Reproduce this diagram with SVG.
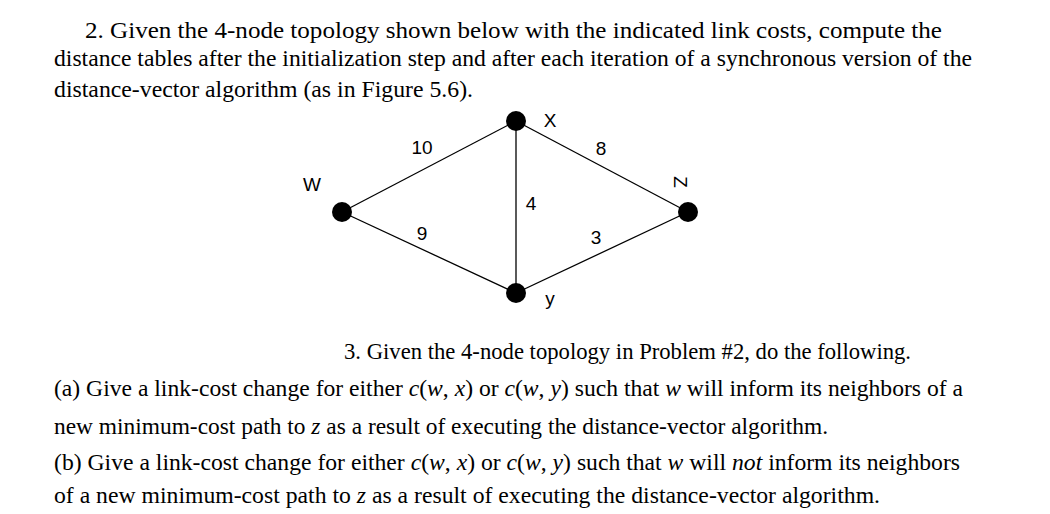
<svg xmlns="http://www.w3.org/2000/svg" width="1050" height="514" viewBox="0 0 1050 514">
<style>
.t{font-family:"Liberation Serif","Times New Roman",serif;font-size:23px;fill:#000}
.s{font-family:"Liberation Sans",Arial,sans-serif;font-size:19px;fill:#000}
.e{stroke:#000;stroke-width:1.3;fill:none}
.n{fill:#000}
</style>
<rect width="1050" height="514" fill="#fff"/>
<text class="t" x="85" y="38" textLength="857" lengthAdjust="spacingAndGlyphs">2. Given the 4-node topology shown below with the indicated link costs, compute the</text>
<text class="t" x="54" y="66" textLength="918" lengthAdjust="spacingAndGlyphs">distance tables after the initialization step and after each iteration of a synchronous version of the</text>
<text class="t" x="54" y="97" textLength="419" lengthAdjust="spacingAndGlyphs">distance-vector algorithm (as in Figure 5.6).</text>
<g id="edges">
<line class="e" x1="342" y1="212" x2="516" y2="121"/>
<line class="e" x1="342" y1="212" x2="516" y2="293"/>
<line class="e" x1="516" y1="121" x2="516" y2="293"/>
<line class="e" x1="516" y1="121" x2="688" y2="212"/>
<line class="e" x1="516" y1="293" x2="688" y2="212"/>
<rect x="522" y="190" width="19" height="24" fill="#fff"/>
<text class="s" x="531" y="210" text-anchor="middle">4</text>
<text class="s" x="422" y="154" text-anchor="middle">10</text>
<text class="s" x="422" y="240" text-anchor="middle">9</text>
<text class="s" x="601" y="155" text-anchor="middle">8</text>
<text class="s" x="596" y="244" text-anchor="middle">3</text>
</g>
<g id="w"><circle class="n" cx="342" cy="212" r="10"/><text class="s" x="312" y="191" text-anchor="middle">W</text></g>
<g id="x"><circle class="n" cx="516" cy="121" r="10"/><text class="s" x="550" y="127" text-anchor="middle">X</text></g>
<g id="y"><circle class="n" cx="516" cy="293" r="10"/><text class="s" x="550" y="305" text-anchor="middle">y</text></g>
<g id="z"><circle class="n" cx="688" cy="212" r="10"/><text class="s" x="0" y="0" text-anchor="middle" transform="translate(681,182) rotate(90) translate(0,7)">Z</text></g>
<text class="t" x="344" y="359" textLength="567" lengthAdjust="spacingAndGlyphs">3. Given the 4-node topology in Problem #2, do the following.</text>
<text class="t" x="54" y="396" textLength="909" lengthAdjust="spacingAndGlyphs">(a) Give a link-cost change for either <tspan font-style="italic">c</tspan>(<tspan font-style="italic">w</tspan>, <tspan font-style="italic">x</tspan>) or <tspan font-style="italic">c</tspan>(<tspan font-style="italic">w</tspan>, <tspan font-style="italic">y</tspan>) such that <tspan font-style="italic">w</tspan> will inform its neighbors of a</text>
<text class="t" x="54" y="434" textLength="774" lengthAdjust="spacingAndGlyphs">new minimum-cost path to <tspan font-style="italic">z</tspan> as a result of executing the distance-vector algorithm.</text>
<text class="t" x="54" y="470" textLength="906" lengthAdjust="spacingAndGlyphs">(b) Give a link-cost change for either <tspan font-style="italic">c</tspan>(<tspan font-style="italic">w</tspan>, <tspan font-style="italic">x</tspan>) or <tspan font-style="italic">c</tspan>(<tspan font-style="italic">w</tspan>, <tspan font-style="italic">y</tspan>) such that <tspan font-style="italic">w</tspan> will <tspan font-style="italic">not</tspan> inform its neighbors</text>
<text class="t" x="54" y="503" textLength="826" lengthAdjust="spacingAndGlyphs">of a new minimum-cost path to <tspan font-style="italic">z</tspan> as a result of executing the distance-vector algorithm.</text>
</svg>
